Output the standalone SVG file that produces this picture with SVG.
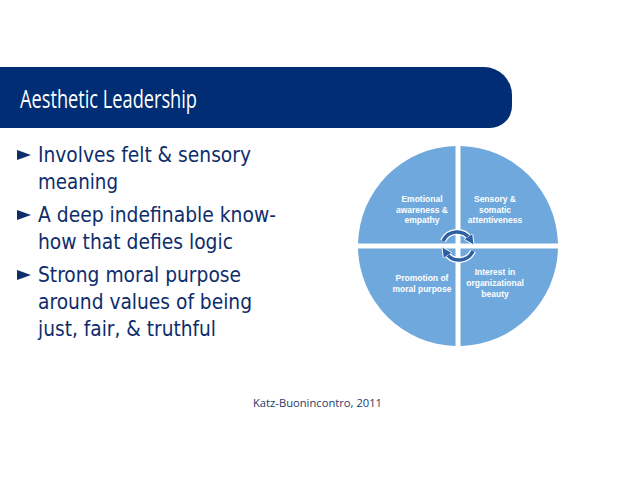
<svg xmlns="http://www.w3.org/2000/svg" width="638" height="493" viewBox="0 0 638 493">
<defs>
<style>
.bul{font-family:"DejaVu Sans Condensed","DejaVu Sans",sans-serif;font-size:21.5px;fill:#0E2D6B}
.q{fill:#6FA8DC}
.qt{font-family:"Liberation Sans",Arial,sans-serif;font-weight:700;font-size:8.5px;fill:#ffffff;text-anchor:middle}
.arc{fill:none;stroke:#2C5FA3;stroke-width:3.5}
.arcbg{fill:none;stroke:#ffffff;stroke-width:6}
</style>
<marker id="ah" viewBox="0 0 10 10" refX="3" refY="5" markerWidth="3" markerHeight="3" orient="auto" markerUnits="strokeWidth">
<path d="M0,0 L10,5 L0,10 Z" fill="#2C5FA3" stroke="#ffffff" stroke-width="0.8"/>
</marker>
</defs>
<rect width="638" height="493" fill="#ffffff"/>
<g id="title">
<path d="M0,67 H484 A28,28 0 0 1 512,95 V106 A22,22 0 0 1 490,128 H0 Z" fill="#002D73"/>
<text x="20" y="108" font-family="'Open Sans','Noto Sans',sans-serif" font-size="26" fill="#ffffff" textLength="177" lengthAdjust="spacingAndGlyphs">Aesthetic Leadership</text>
</g>
<g id="bullets">
<path d="M17,150 L31,155 L17,160 Z" fill="#0E2D6B"/>
<path d="M17,210 L31,215 L17,220 Z" fill="#0E2D6B"/>
<path d="M17,270 L31,275 L17,280 Z" fill="#0E2D6B"/>
<text class="bul" x="38" y="162" textLength="213" lengthAdjust="spacingAndGlyphs">Involves felt &amp; sensory</text>
<text class="bul" x="38" y="189" textLength="80" lengthAdjust="spacingAndGlyphs">meaning</text>
<text class="bul" x="38" y="222" textLength="238" lengthAdjust="spacingAndGlyphs">A deep indefinable know-</text>
<text class="bul" x="38" y="249" textLength="195" lengthAdjust="spacingAndGlyphs">how that defies logic</text>
<text class="bul" x="38" y="282" textLength="203" lengthAdjust="spacingAndGlyphs">Strong moral purpose</text>
<text class="bul" x="38" y="309" textLength="214" lengthAdjust="spacingAndGlyphs">around values of being</text>
<text class="bul" x="38" y="336" textLength="178" lengthAdjust="spacingAndGlyphs">just, fair, &amp; truthful</text>
</g>
<g id="q-emotional">
<path class="q" d="M455.5,243.5 V146.03 A100,100 0 0 0 358.03,243.5 Z"/>
<text class="qt" x="422" y="202">Emotional</text>
<text class="qt" x="422" y="212.5">awareness &amp;</text>
<text class="qt" x="422" y="223">empathy</text>
</g>
<g id="q-sensory">
<path class="q" d="M460.5,243.5 V146.03 A100,100 0 0 1 557.97,243.5 Z"/>
<text class="qt" x="495" y="202">Sensory &amp;</text>
<text class="qt" x="495" y="212.5">somatic</text>
<text class="qt" x="495" y="223">attentiveness</text>
</g>
<g id="q-promotion">
<path class="q" d="M455.5,248.5 V345.97 A100,100 0 0 1 358.03,248.5 Z"/>
<text class="qt" x="422" y="281">Promotion of</text>
<text class="qt" x="422" y="292">moral purpose</text>
</g>
<g id="q-interest">
<path class="q" d="M460.5,248.5 V345.97 A100,100 0 0 0 557.97,248.5 Z"/>
<text class="qt" x="495" y="275">Interest in</text>
<text class="qt" x="495" y="286">organizational</text>
<text class="qt" x="495" y="297">beauty</text>
</g>
<g id="connectors">
<path class="arcbg" d="M443,241 A15.5,15.5 0 0 1 470,239"/>
<path class="arcbg" d="M473,251 A15.5,15.5 0 0 1 446,253"/>
<path class="arc" d="M443,241 A15.5,15.5 0 0 1 470,239" marker-end="url(#ah)"/>
<path class="arc" d="M473,251 A15.5,15.5 0 0 1 446,253" marker-end="url(#ah)"/>
</g>
<g id="citation">
<text x="253" y="407" font-family="'Open Sans','Noto Sans',sans-serif" font-size="11.5" fill="#1F3A6B" textLength="129" lengthAdjust="spacingAndGlyphs">Katz-Buonincontro, 2011</text>
</g>
</svg>
